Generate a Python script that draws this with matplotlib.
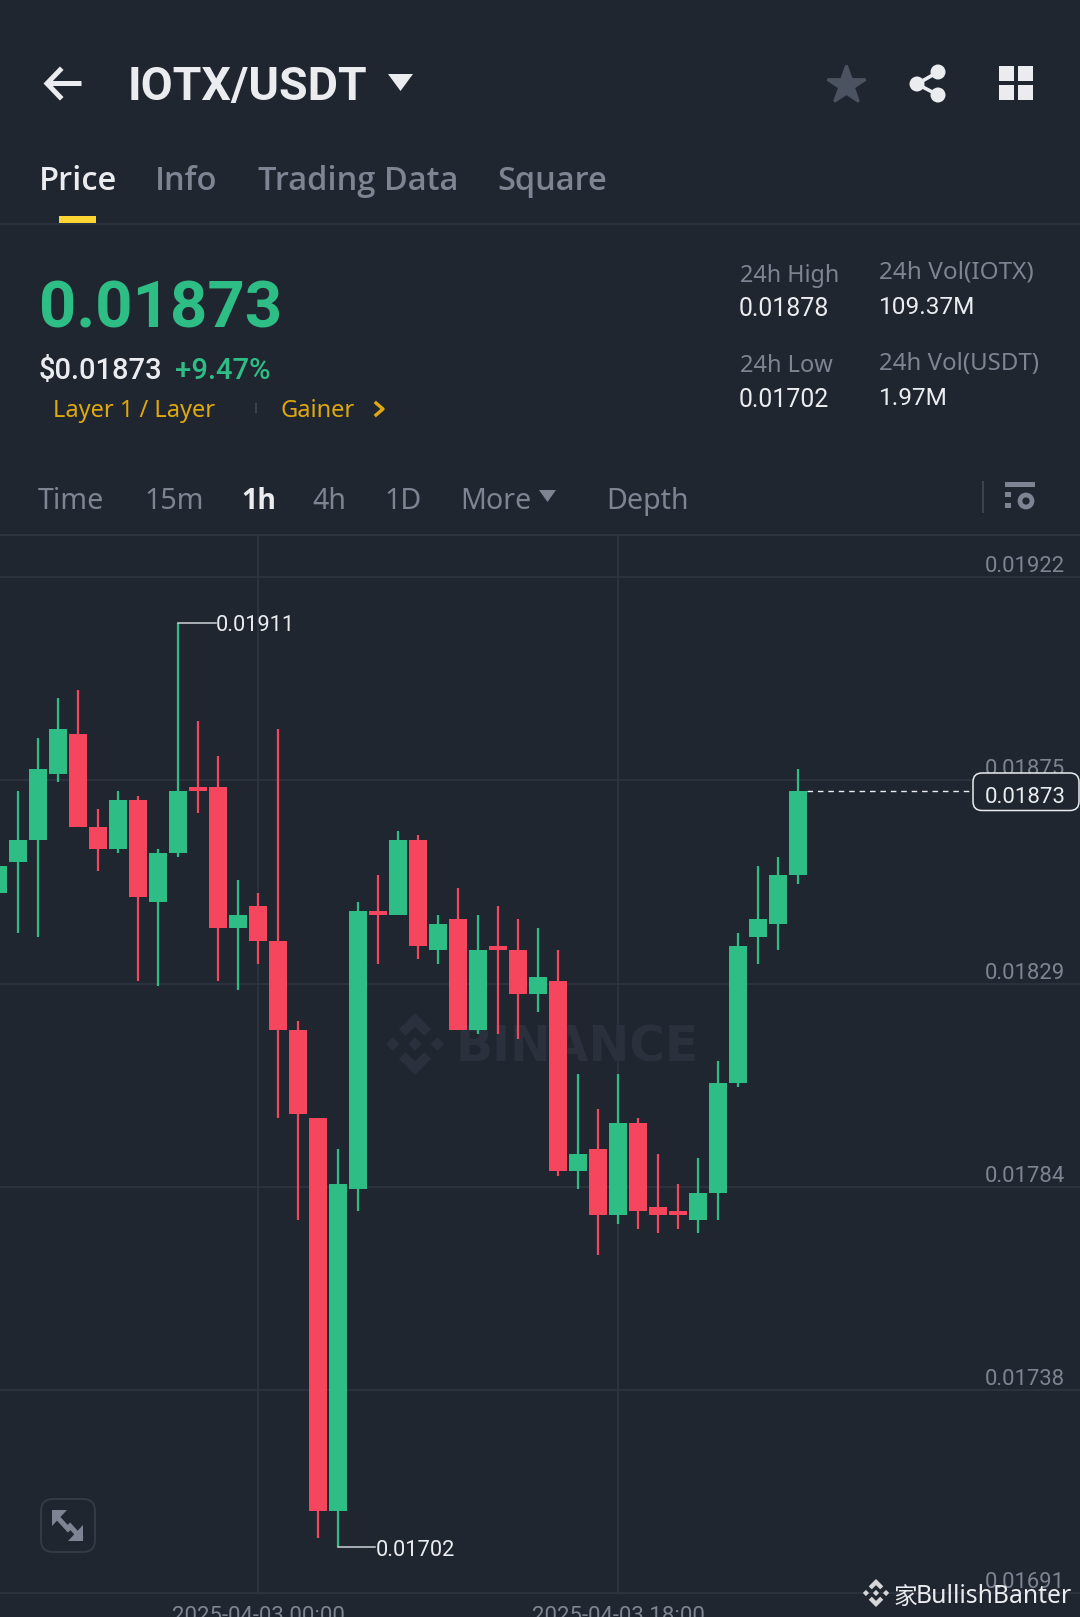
import numpy as np
import matplotlib
matplotlib.use("Agg")
import matplotlib.pyplot as plt
from matplotlib.patches import Polygon, FancyBboxPatch, Circle, Rectangle

# hourly candles, index 13 = 2025-04-03 00:00, index 31 = 18:00
opens = [0.01850, 0.01857, 0.01862, 0.01877, 0.01886, 0.01865, 0.01860, 0.01871, 0.01848, 0.01859, 0.01874,
         0.01874, 0.01842, 0.01847, 0.01839, 0.01819, 0.01799, 0.01710, 0.01783, 0.01846, 0.01845, 0.01862,
         0.01837, 0.01844, 0.01819, 0.01838, 0.01837, 0.01827, 0.01830, 0.01787, 0.01792, 0.01777, 0.01798,
         0.01779, 0.01778, 0.01776, 0.01782, 0.01807, 0.01840, 0.01843, 0.01854]
closes = [0.01856, 0.01862, 0.01878, 0.01887, 0.01865, 0.01860, 0.01871, 0.01849, 0.01859, 0.01873, 0.01873,
          0.01842, 0.01845, 0.01839, 0.01819, 0.01800, 0.01710, 0.01784, 0.01846, 0.01845, 0.01862, 0.01838,
          0.01843, 0.01819, 0.01837, 0.01837, 0.01827, 0.01831, 0.01787, 0.01791, 0.01777, 0.01798, 0.01778,
          0.01777, 0.01777, 0.01782, 0.01807, 0.01838, 0.01844, 0.01854, 0.01873]
highs = [0.01856, 0.01873, 0.01885, 0.01894, 0.01896, 0.01869, 0.01873, 0.01872, 0.01860, 0.01911, 0.01889,
         0.01881, 0.01853, 0.01850, 0.01887, 0.01821, 0.01799, 0.01792, 0.01848, 0.01854, 0.01864, 0.01863,
         0.01845, 0.01851, 0.01845, 0.01847, 0.01844, 0.01842, 0.01837, 0.01809, 0.01801, 0.01809, 0.01799,
         0.01791, 0.01784, 0.01790, 0.01812, 0.01841, 0.01856, 0.01858, 0.01878]
lows = [0.01850, 0.01841, 0.01840, 0.01875, 0.01865, 0.01855, 0.01859, 0.01830, 0.01829, 0.01858, 0.01868,
        0.01830, 0.01828, 0.01834, 0.01799, 0.01776, 0.01704, 0.01702, 0.01778, 0.01834, 0.01845, 0.01835,
        0.01834, 0.01819, 0.01818, 0.01818, 0.01817, 0.01823, 0.01786, 0.01783, 0.01768, 0.01775, 0.01774,
        0.01773, 0.01774, 0.01773, 0.01776, 0.01806, 0.01834, 0.01837, 0.01852]

# price axis
grid_prices = [0.0192148, 0.0187553, 0.0182935, 0.0178340, 0.0173750, 0.0169150]
grid_labels = ["0.01922", "0.01875", "0.01829", "0.01784", "0.01738", "0.01691"]
date_index = [13, 31]
date_labels = ["2025-04-03 00:00", "2025-04-03 18:00"]

# pair header
pair = "IOTX/USDT"
tabs = ["Price", "Info", "Trading Data", "Square"]
last_price = "0.01873"
intervals = ["Time", "15m", "1h", "4h", "1D", "More", "Depth"]

BG = "#1f2630"
GRID = "#2e3541"
GREEN = "#2ebd85"
RED = "#f6465d"
WHITE = "#eaecef"
GREY = "#7d8592"
AMBER = "#e0a80f"

SANS = "Noto Sans"
NUM = "Roboto"
HEAD = "Open Sans"


def logo(axis, trans, cx, cy, r, color, zorder=1):
    # binance mark, r is half the height in pixels
    shapes = [
        [(0, -1), (.52, -.48), (.30, -.26), (0, -.56), (-.30, -.26), (-.52, -.48)],
        [(0, 1), (.52, .48), (.30, .26), (0, .56), (-.30, .26), (-.52, .48)],
        [(0, -.22), (.22, 0), (0, .22), (-.22, 0)],
        [(.72, -.22), (.94, 0), (.72, .22), (.50, 0)],
        [(-.72, -.22), (-.50, 0), (-.72, .22), (-.94, 0)],
    ]
    for s in shapes:
        pts = [(cx + a * r, cy + b * r) for a, b in s]
        axis.add_patch(Polygon(pts, closed=True, fc=color, ec="none", transform=trans, zorder=zorder))


fig = plt.figure(figsize=(10.8, 16.17), dpi=100, facecolor=BG)

# chart axes: index on x, price on y
ax = fig.add_axes([0, 0, 1, (1617 - 535) / 1617], zorder=1)
ax.set_facecolor(BG)
ax.set_xlim(0.1, 54.1)
ax.set_ylim(0.0168610, 0.0193099)
ax.axis("off")

# pixel axes for the app chrome
ui = fig.add_axes([0, 0, 1, 1], zorder=2)
ui.set_xlim(0, 1080)
ui.set_ylim(1617, 0)
ui.axis("off")
ui.patch.set_alpha(0)

x = np.arange(len(opens))
o = np.array(opens)
c = np.array(closes)
colors = [GREEN if b >= a else RED for a, b in zip(opens, closes)]

# grid
for p in grid_prices:
    ax.axhline(p, color=GRID, lw=1.2, zorder=1)
ax.vlines(date_index, grid_prices[-1], ax.get_ylim()[1], color=GRID, lw=1.2, zorder=1)

# watermark under the candles
ax.text(456, 1061, "BINANCE", transform=ui.transData, family="DejaVu Sans", fontweight="bold",
        fontsize=35, color="#2a313c", zorder=1.5)
logo(ax, ui.transData, 415, 1044, 31, "#2a313c", zorder=1.5)

# candles
ax.vlines(x, lows, highs, colors=colors, lw=1.6, zorder=3)
ax.bar(x, np.abs(c - o), bottom=np.minimum(o, c), width=0.87, color=colors, zorder=4)

# axis labels
for p, lab in zip(grid_prices, grid_labels):
    ax.annotate(lab, (1, p), xycoords=ax.get_yaxis_transform(), xytext=(-15, 5), textcoords="offset pixels",
                ha="right", va="baseline", family=NUM, fontsize=15.8, color=GREY, zorder=2)
for i, lab in zip(date_index, date_labels):
    ax.annotate(lab, (i, 0), xycoords=("data", "axes fraction"), xytext=(0, -5), textcoords="offset pixels",
                ha="center", va="baseline", family=NUM, fontsize=16, color=GREY, annotation_clip=False)

# high / low markers
ihi = int(np.argmax(highs))
ilo = int(np.argmin(lows))
ax.plot([ihi, ihi + 1.9], [highs[ihi], highs[ihi]], color="#cfd3d8", lw=1.1, zorder=5)
ax.plot([ilo, ilo + 1.85], [lows[ilo], lows[ilo]], color="#cfd3d8", lw=1.1, zorder=5)
ax.annotate(f"{highs[ihi]:.5f}", (ihi + 1.88, highs[ihi]), xytext=(0, -8), textcoords="offset pixels",
            va="baseline", family=NUM, fontsize=15.7, color=WHITE, zorder=6)
ax.annotate(f"{lows[ilo]:.5f}", (ilo + 1.88, lows[ilo]), xytext=(0, -9), textcoords="offset pixels",
            va="baseline", family=NUM, fontsize=15.7, color=WHITE, zorder=6)

# last price line
ax.plot([len(x) - 1 + 0.45, 48.65], [closes[-1], closes[-1]], color=WHITE, lw=1, dashes=(4, 3.5), zorder=5)
ui.add_patch(FancyBboxPatch((973, 773), 106, 37.5, boxstyle="round,pad=0,rounding_size=9", lw=1.1,
                            ec=WHITE, fc=BG))
ui.text(1025.5, 803, last_price, ha="center", va="baseline", family=NUM, fontsize=16, color=WHITE)

# top bar
ui.plot([48, 81], [83.5, 83.5], color=WHITE, lw=3.6, solid_capstyle="butt")
ui.plot([60, 47, 60], [70, 83.5, 97], color=WHITE, lw=3.6, solid_joinstyle="miter")
ui.text(128, 100, pair, family=NUM, fontweight="bold", fontsize=33.5, color=WHITE, va="baseline")
ui.add_patch(Polygon([(388, 74), (413, 74), (400.5, 91)], fc=WHITE, ec="none"))
ui.plot(846, 85, marker="*", ms=29, color="#4b5360", mec="#4b5360", mew=2)
for a, b in [((938, 72), (917, 84)), ((917, 84), (938, 95))]:
    ui.plot([a[0], b[0]], [a[1], b[1]], color=WHITE, lw=2.6)
for cx, cy in [(917, 84), (938, 72), (938, 95)]:
    ui.add_patch(Circle((cx, cy), 7.5, fc=WHITE, ec="none"))
for px, py in [(999, 66), (1018, 66), (999, 85), (1018, 85)]:
    ui.add_patch(Rectangle((px, py), 15, 15, fc=WHITE, ec="none"))

# tabs
for lab, tx, col in zip(tabs, [39, 155, 258, 497], [WHITE, GREY, GREY, GREY]):
    ui.text(tx, 190, lab, family=HEAD, fontweight="semibold", fontsize=23.5, color=col, va="baseline")
ui.add_patch(Rectangle((59, 216), 37, 7.5, fc="#fcd535", ec="none"))
ui.plot([0, 1080], [224, 224], color=GRID, lw=1.2)

# price block
ui.text(39, 327, last_price, family=NUM, fontweight="bold", fontsize=47, color=GREEN, va="baseline")
ui.text(39, 379, "$" + last_price, family=NUM, fontweight="medium", fontsize=21, color=WHITE, va="baseline")
ui.text(175, 379, "+9.47%", family=NUM, fontweight="medium", fontsize=21, color=GREEN, va="baseline")
ui.text(53, 417, "Layer 1 / Layer", family=SANS, fontsize=17, color=AMBER, va="baseline")
ui.plot([256, 256], [404, 412], color="#3d4450", lw=1.4)
ui.text(281, 417, "Gainer", family=SANS, fontsize=17, color=AMBER, va="baseline")
ui.plot([376, 383, 376], [403, 409, 415], color=AMBER, lw=2.4)

# 24h stats
ui.text(740, 282, "24h High", family=SANS, fontsize=16.8, color=GREY, va="baseline")
ui.text(879, 279, "24h Vol(IOTX)", family=SANS, fontsize=17.5, color=GREY, va="baseline")
ui.text(739, 316, "0.01878", family=NUM, fontsize=17.9, color=WHITE, va="baseline")
ui.text(879, 314.5, "109.37M", family=NUM, fontsize=17.6, color=WHITE, va="baseline")
ui.text(740, 372, "24h Low", family=SANS, fontsize=17, color=GREY, va="baseline")
ui.text(879, 370.5, "24h Vol(USDT)", family=SANS, fontsize=17.3, color=GREY, va="baseline")
ui.text(739, 407, "0.01702", family=NUM, fontsize=17.9, color=WHITE, va="baseline")
ui.text(879, 405, "1.97M", family=NUM, fontsize=17.6, color=WHITE, va="baseline")

# interval bar
tool_x = [38, 144, 241, 312, 384, 460, 606]
for lab, tx in zip(intervals, tool_x):
    active = lab == "1h"
    ui.text(tx, 508.5, lab, family=HEAD if active else SANS, fontsize=20.6, va="baseline",
            color=WHITE if active else GREY, fontweight="bold" if active else "normal")
ui.add_patch(Polygon([(539, 490), (556, 490), (547.5, 502)], fc=GREY, ec="none"))
ui.plot([983, 983], [482, 512], color="#3d4450", lw=1.4)
ui.add_patch(Rectangle((1005, 482), 30, 4.5, fc=GREY, ec="none"))
ui.add_patch(Rectangle((1005, 492), 6, 5, fc=GREY, ec="none"))
ui.add_patch(Rectangle((1005, 503), 6, 5, fc=GREY, ec="none"))
ui.add_patch(Circle((1026, 501), 6, fc="none", ec=GREY, lw=3.4))
ui.plot([0, 1080], [535, 535], color=GRID, lw=1.4)

# expand button
ui.add_patch(FancyBboxPatch((41, 1499), 54, 53, boxstyle="round,pad=0,rounding_size=12", lw=1.4,
                            ec="#333b47", fc="none"))
ui.plot([58, 68], [1518, 1529], color=GREY, lw=3.6)
ui.add_patch(Polygon([(52, 1510), (67, 1510), (52, 1526)], fc=GREY, ec="none"))
ui.plot([70, 80], [1526, 1537], color=GREY, lw=3.6)
ui.add_patch(Polygon([(83, 1541), (68, 1541), (83, 1525)], fc=GREY, ec="none"))

# repost tag
logo(ui, ui.transData, 876, 1593, 14, "#d4d6da", zorder=4)
ui.text(894, 1604, "家", family=["Noto Sans CJK SC", "DejaVu Sans"], fontsize=17, color=WHITE, va="baseline", zorder=4)
ui.text(916, 1603, "BullishBanter", family=SANS, fontsize=17.8, color=WHITE, va="baseline", zorder=4)

fig.savefig("out.png", dpi=100, facecolor=BG)
